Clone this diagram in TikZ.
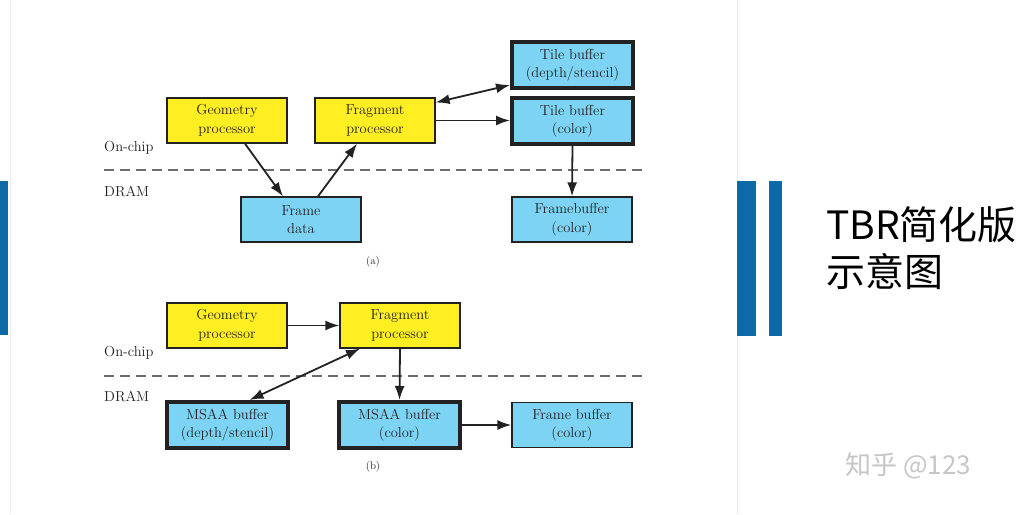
\documentclass[tikz,border=0pt]{standalone}
\usepackage{fontspec}
\newfontfamily\cjk{Noto Sans CJK SC}
\usetikzlibrary{arrows.meta}
\definecolor{yel}{HTML}{FFEE22}
\definecolor{blu}{HTML}{7DD3F3}
\definecolor{bar}{HTML}{0E6AA6}
\definecolor{txt}{HTML}{222222}
\begin{document}
\begin{tikzpicture}[x=1pt,y=-1pt,
 box/.style={draw=txt,line width=1.3pt,minimum width=120pt,minimum height=45pt,align=center,inner sep=0pt,font=\fontsize{14.5}{18.5}\selectfont,text=txt},
 yb/.style={box,fill=yel},
 bb/.style={box,fill=blu},
 tb/.style={box,fill=blu,line width=4pt,minimum width=121pt,minimum height=46pt},
 lab/.style={font=\fontsize{14.5}{16}\selectfont,text=txt,anchor=west,inner sep=0pt},
 ar/.style={line width=1.8pt,draw=txt,-{Latex[length=14pt,width=10pt]}},
 dar/.style={line width=1.8pt,draw=txt,{Latex[length=14pt,width=10pt]}-{Latex[length=14pt,width=10pt]}},
 sep/.style={line width=1.4pt,draw=gray!85!black,dash pattern=on 10pt off 6pt}]
\useasboundingbox (0,0) rectangle (1028,514);
\fill[white] (0,0) rectangle (1028,514);
\draw[gray!15,line width=1pt] (10,-2) -- (10,514);
\draw[gray!15,line width=1pt] (737,-2) -- (737,514);
\fill[bar] (0,181) rectangle (8,335);
\fill[bar] (737,181) rectangle (756,336);
\fill[bar] (769,181) rectangle (782,336);
\node[anchor=north west,inner sep=0pt,align=left,font=\cjk\fontsize{39}{47}\selectfont] (title) at (826,206) {TBR简化版\\示意图};
\node[anchor=west,inner sep=0pt,font=\cjk\fontsize{26}{30}\selectfont,text=gray!45] (wm) at (845,466) {知乎 @123};
% (a)
\node[yb] (ga) at (227,120.5) {Geometry\\processor};
\node[yb] (fa) at (375,120.5) {Fragment\\processor};
\node[tb] (td) at (572.5,65) {Tile buffer\\(depth/stencil)};
\node[tb] (tc) at (572.5,121) {Tile buffer\\(color)};
\node[bb] (fd) at (301,219.5) {Frame\\data};
\node[bb] (fb) at (572,219.5) {Framebuffer\\(color)};
\node[lab] (oa) at (104,148) {On-chip};
\node[lab] (da) at (104,191) {DRAM};
\coordinate (la1) at (104,170); \coordinate (la2) at (646,170);
\draw[sep] (la1) -- (la2);
\node[font=\fontsize{11}{12}\selectfont,text=txt] (capa) at (373,262) {(a)};
\draw[ar] ([xshift=18pt]ga.south) -- ([xshift=-18pt]fd.north);
\draw[ar] ([xshift=17pt]fd.north) -- ([xshift=-18pt]fa.south);
\draw[dar] ([yshift=18pt]fa.east) -- ([yshift=-20pt]td.west);
\draw[ar] (fa.east) -- (fa.east -| tc.west);
\draw[ar] (tc.south) -- (fb.north);
% (b)
\node[yb] (gb) at (227,325.5) {Geometry\\processor};
\node[yb] (fbp) at (400,325.5) {Fragment\\processor};
\node[tb] (md) at (227.5,425) {MSAA buffer\\(depth/stencil)};
\node[tb] (mc) at (399.5,425) {MSAA buffer\\(color)};
\node[bb] (fbb) at (572,425) {Frame buffer\\(color)};
\node[lab] (ob) at (104,353) {On-chip};
\node[lab] (db) at (104,396) {DRAM};
\coordinate (lb1) at (104,376); \coordinate (lb2) at (646,376);
\draw[sep] (lb1) -- (lb2);
\node[font=\fontsize{11}{12}\selectfont,text=txt] (capb) at (373,467) {(b)};
\draw[ar] (gb.east) -- (fbp.west);
\draw[dar] ([xshift=-40pt]fbp.south) -- ([xshift=22pt]md.north);
\draw[ar] (fbp.south) -- (mc.north);
\draw[ar] (mc.east) -- (fbb.west);
\end{tikzpicture}
\end{document}
